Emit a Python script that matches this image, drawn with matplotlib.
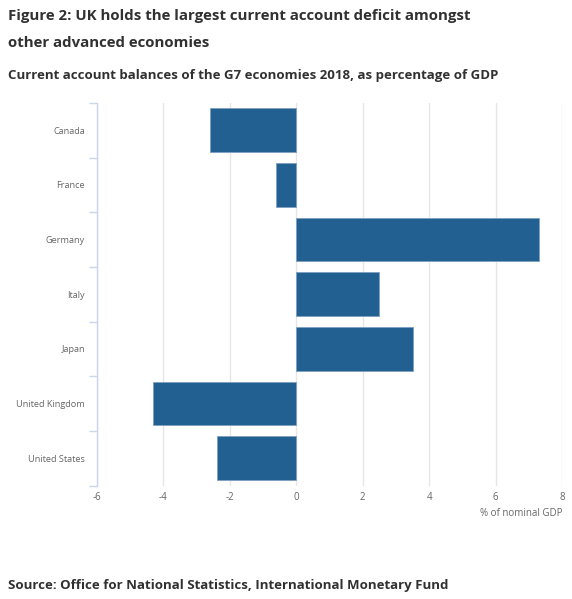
import matplotlib
matplotlib.use("Agg")
import matplotlib.pyplot as plt
import numpy as np

countries = ["Canada", "France", "Germany", "Italy", "Japan", "United Kingdom", "United States"]
values = [-2.6, -0.6, 7.3, 2.5, 3.5, -4.3, -2.4]
xticks = [-6, -4, -2, 0, 2, 4, 6, 8]

title_lines = ["Figure 2: UK holds the largest current account deficit amongst",
               "other advanced economies"]
subtitle = "Current account balances of the G7 economies 2018, as percentage of GDP"
source = "Source: Office for National Statistics, International Monetary Fund"
xlabel = "% of nominal GDP"

plt.rcParams['font.family'] = ['Open Sans', 'DejaVu Sans']

W, H = 572, 599
fig = plt.figure(figsize=(W / 100, H / 100), dpi=100)
ax = fig.add_axes([97 / W, 1 - 485.5 / H, (562 - 97) / W, (485.5 - 103) / H])

y = np.arange(len(countries))
ax.barh(y, values, height=0.8, color="#236092", edgecolor="#7f9fc2", linewidth=0.6, zorder=3)
ax.set_ylim(len(countries) - 0.5, -0.5)
ax.set_xlim(-6, 8)
ax.set_xticks(xticks)
ax.set_xticklabels([str(t) for t in xticks], fontsize=7, color="#666666")
ax.tick_params(axis='x', length=0, pad=5)
ax.set_yticks(y)
ax.set_yticklabels(countries, fontsize=6.6, color="#666666")
ax.set_yticks(np.arange(len(countries) + 1) - 0.5, minor=True)
ax.tick_params(axis='y', which='major', length=0, pad=8.5)
ax.tick_params(axis='y', which='minor', length=6, color="#ccd6eb", width=1)
ax.grid(axis='x', color="#e6e6e6", linewidth=1, zorder=0)
for s in ["top", "right", "bottom"]:
    ax.spines[s].set_visible(False)
ax.spines["left"].set_color("#ccd6eb")
ax.spines["left"].set_linewidth(1)
ax.spines["left"].set_zorder(4)

fig.text(562 / W, 1 - 514 / H, xlabel, ha="right", va="center", fontsize=7, color="#666666")

fig.text(8 / W, 1 - 16 / H, title_lines[0], ha="left", va="center", fontsize=10.8,
         fontweight="bold", color="#323132")
fig.text(8 / W, 1 - 43 / H, title_lines[1], ha="left", va="center", fontsize=10.8,
         fontweight="bold", color="#323132")
fig.text(8 / W, 1 - 76 / H, subtitle, ha="left", va="center", fontsize=9.5, fontweight="bold",
         color="#323132")
fig.text(8 / W, 1 - 586 / H, source, ha="left", va="center", fontsize=9.5, fontweight="bold",
         color="#323132")

fig.savefig("out.png", dpi=100, facecolor="white")
